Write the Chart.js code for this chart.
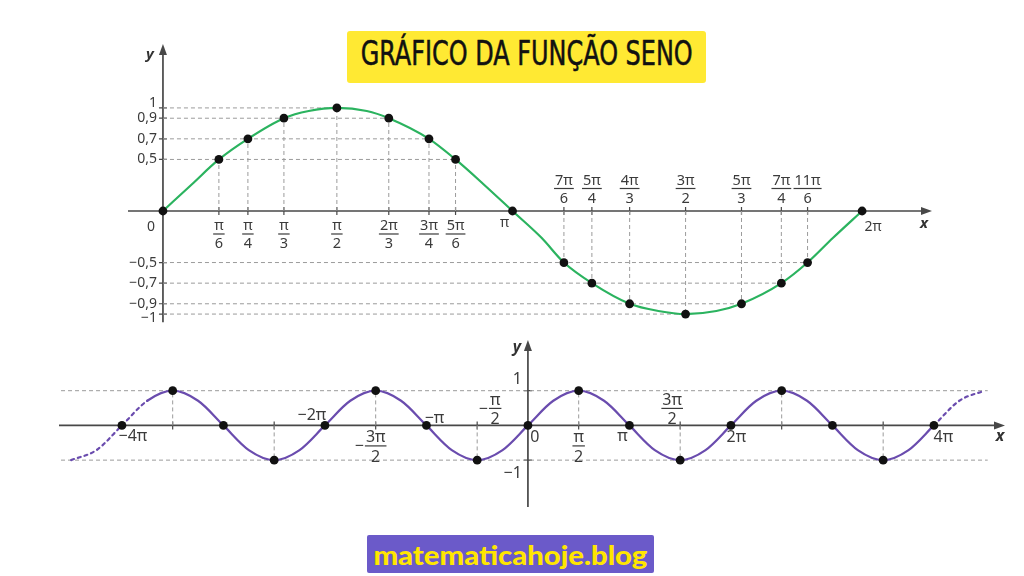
<!DOCTYPE html>
<html>
<head>
<meta charset="utf-8">
<script src="https://cdn.jsdelivr.net/npm/chart.js@4.4.0/dist/chart.umd.min.js"></script>
<style>
  html, body { margin: 0; padding: 0; background: #fff; width: 1024px; height: 576px; overflow: hidden; }
  canvas { position: absolute; left: 0; top: 0; }
  #title {
    position: absolute; left: 347px; top: 31px; width: 359px; height: 52px;
    background: #ffe933; border-radius: 3px;
    display: flex; justify-content: center; align-items: flex-start;
  }
  #title span {
    display: inline-block; margin-top: 3px;
    font-family: "Liberation Sans Narrow", "DejaVu Sans Condensed", "Liberation Sans", sans-serif;
    font-size: 33px; color: #111; white-space: nowrap; transform-origin: center;
    -webkit-text-stroke: 0.5px #111;
  }
  #footer {
    position: absolute; left: 367px; top: 535px; width: 287px; height: 38px;
    background: #6b5ac9; border-radius: 2px;
    display: flex; justify-content: center; align-items: center;
  }
  #footer span {
    display: inline-block;
    font-family: Lato, "Open Sans", sans-serif; font-weight: 900;
    font-size: 27px; color: #ffe600; white-space: nowrap; transform-origin: center;
  }
</style>
</head>
<body>
<canvas id="top-chart" width="1024" height="576"></canvas>
<canvas id="bottom-chart" width="1024" height="576"></canvas>
<div id="title"><span>GRÁFICO DA FUNÇÃO SENO</span></div>
<div id="footer"><span>matematicahoje.blog</span></div>
<script>
// ---- top chart (x in units of π, as placed in the picture) ----
const top_dot_x = [0, 0.16, 0.243, 0.346, 0.4975, 0.646, 0.761, 0.837, 1, 1.147, 1.227, 1.335, 1.495, 1.655, 1.769, 1.844, 2];
const top_dot_y = [0, 0.5, 0.7, 0.9, 1, 0.9, 0.7, 0.5, 0, -0.5, -0.7, -0.9, -1, -0.9, -0.7, -0.5, 0];
const top_num = ["", "π", "π", "π", "π", "2π", "3π", "5π", "", "7π", "5π", "4π", "3π", "5π", "7π", "11π", ""];
const top_den = ["", "6", "4", "3", "2", "3", "4", "6", "", "6", "4", "3", "2", "3", "4", "6", ""];
const top_curve_x = [0, 0.083, 0.16, 0.243, 0.346, 0.417, 0.4975, 0.583, 0.646, 0.761, 0.837, 0.917, 1,
  1.083, 1.147, 1.227, 1.335, 1.417, 1.495, 1.583, 1.655, 1.769, 1.844, 1.917, 2];
const top_curve_y = [0, 0.26, 0.5, 0.7, 0.9, 0.97, 1, 0.97, 0.9, 0.7, 0.5, 0.26, 0,
  -0.26, -0.5, -0.7, -0.9, -0.97, -1, -0.97, -0.9, -0.7, -0.5, -0.26, 0];
const top_y_ticks = [1, 0.9, 0.7, 0.5, -0.5, -0.7, -0.9, -1];
const top_y_labels = ["1", "0,9", "0,7", "0,5", "−0,5", "−0,7", "−0,9", "−1"];

// ---- bottom chart (x in units of π) ----
const bot_dot_x = [-4, -3.5, -3, -2.5, -2, -1.5, -1, -0.5, 0, 0.5, 1, 1.5, 2, 2.5, 3, 3.5, 4];
const bot_dot_y = [0, 1, 0, -1, 0, 1, 0, -1, 0, 1, 0, -1, 0, 1, 0, -1, 0];
const bot_curve_x = [-4.5, -4.25, -4, -3.75, -3.5, -3.25, -3, -2.75, -2.5, -2.25, -2, -1.75, -1.5, -1.25, -1, -0.75, -0.5, -0.25,
  0, 0.25, 0.5, 0.75, 1, 1.25, 1.5, 1.75, 2, 2.25, 2.5, 2.75, 3, 3.25, 3.5, 3.75, 4, 4.25, 4.5];
const bot_curve_y = [-1, -0.71, 0, 0.71, 1, 0.71, 0, -0.71, -1, -0.71, 0, 0.71, 1, 0.71, 0, -0.71, -1, -0.71,
  0, 0.71, 1, 0.71, 0, -0.71, -1, -0.71, 0, 0.71, 1, 0.71, 0, -0.71, -1, -0.71, 0, 0.71, 1];
const bot_x_label_at = [-4, -2, -1.5, -1, -0.5, 0, 0.5, 1, 1.5, 2, 4];
const bot_x_labels = ["−4π", "−2π", "−3π/2", "−π", "−π/2", "0", "π/2", "π", "3π/2", "2π", "4π"];
const bot_y_ticks = [1, -1];
const bot_y_labels = ["1", "−1"];

const INK = "#3b3b3b";
const AXIS = "#484848";
const GUIDE = "#9b9b9b";
const FONT = '"Noto Sans", "Open Sans", sans-serif';

const to_points = (xs, ys) => xs.map((x, i) => ({ x: x, y: ys[i] }));

// dashed guides: horizontal from the y axis, vertical from the x axis
const get_guides = (xs, ys, levels) => {
  const pts = [];
  (levels || []).forEach((v) => {
    const far = Math.max(...xs.filter((x, i) => ys[i] === v));
    pts.push({ x: 0, y: v }, { x: far, y: v }, { x: far, y: null });
  });
  xs.forEach((x, i) => {
    if (ys[i] === 0) return;
    pts.push({ x: x, y: 0 }, { x: x, y: ys[i] }, { x: x, y: null });
  });
  return pts;
};

const arrow = (ctx, x, y, dir) => {
  ctx.beginPath();
  if (dir === "right") {
    ctx.moveTo(x, y); ctx.lineTo(x - 11, y - 4); ctx.lineTo(x - 11, y + 4);
  } else {
    ctx.moveTo(x, y); ctx.lineTo(x - 4, y + 11); ctx.lineTo(x + 4, y + 11);
  }
  ctx.closePath();
  ctx.fill();
};

const frac = (ctx, cx, bar_y, num, den, size, minus) => {
  ctx.font = `${size}px ${FONT}`;
  const w = Math.max(ctx.measureText(num).width, ctx.measureText(den).width) + 2;
  ctx.textAlign = "center";
  ctx.textBaseline = "alphabetic";
  ctx.fillText(num, cx, bar_y - 3.5);
  ctx.fillText(den, cx, bar_y + size);
  ctx.fillRect(cx - w / 2, bar_y - 0.6, w, 1.2);
  if (minus) {
    ctx.textAlign = "right";
    ctx.textBaseline = "middle";
    ctx.fillText("−", cx - w / 2 - 1, bar_y + 1);
  }
};

const axes_plugin = (ax) => ({
  id: "axes",
  beforeDatasetsDraw(chart) {
    const { ctx, scales } = chart;
    const X = (v) => scales.x.getPixelForValue(v);
    const Y = (v) => scales.y.getPixelForValue(v);
    ctx.save();
    ctx.strokeStyle = AXIS;
    ctx.fillStyle = AXIS;
    ctx.lineWidth = 1.7;
    ctx.beginPath();
    ctx.moveTo(X(ax.x0), Y(0)); ctx.lineTo(X(ax.x1) - 6, Y(0));
    ctx.moveTo(X(0), Y(ax.y0)); ctx.lineTo(X(0), Y(ax.y1) + 6);
    ctx.stroke();
    arrow(ctx, X(ax.x1), Y(0), "right");
    arrow(ctx, X(0), Y(ax.y1), "up");
    ctx.lineWidth = 1.2;
    ctx.beginPath();
    ax.xticks.forEach((v) => { ctx.moveTo(X(v), Y(0) - 4); ctx.lineTo(X(v), Y(0) + 4); });
    ax.yticks.forEach((v) => { ctx.moveTo(X(0) - 4, Y(v)); ctx.lineTo(X(0) + 4, Y(v)); });
    ctx.stroke();
    ctx.restore();
  },
  afterDatasetsDraw(chart) {
    const { ctx, scales } = chart;
    ctx.save();
    ctx.fillStyle = INK;
    ax.labels(ctx, (v) => scales.x.getPixelForValue(v), (v) => scales.y.getPixelForValue(v));
    ctx.restore();
  },
});

const text = (ctx, s, x, y, size, align, style) => {
  ctx.font = `${style || ""} ${size}px ${FONT}`;
  ctx.textAlign = align || "center";
  ctx.textBaseline = "middle";
  ctx.fillText(s, x, y);
};

const top_labels = (ctx, X, Y) => {
  top_dot_x.forEach((x, i) => {
    if (!top_num[i]) return;
    const below = top_dot_y[i] > 0;
    frac(ctx, X(x), below ? Y(0) + 23 : Y(0) - 22.5, top_num[i], top_den[i], 14.5);
  });
  top_y_ticks.forEach((v, i) => {
    let dy = 0;
    if (v === 1) dy = -5;
    if (v === -1) dy = 4;
    text(ctx, top_y_labels[i], X(0) - 6, Y(v) + dy, 14, "right");
  });
  text(ctx, "0", X(0) - 12, Y(0) + 16, 14);
  text(ctx, "π", X(1) - 8, Y(0) + 12, 14);
  text(ctx, "2π", X(2) + 11, Y(0) + 16, 14);
  ctx.fillStyle = "#333";
  text(ctx, "x", X(2.2) - 8, Y(0) + 13, 15, "center", "italic bold");
  text(ctx, "y", X(0) - 13, Y(1.6) + 9, 15, "center", "italic bold");
};

// label placement around each bottom tick (layout only)
const bot_place = {
  "−4π": [11, 11], "−2π": [-13, -10], "−π": [8, -7], "0": [7, 12.5],
  "π": [-7, 11.5], "2π": [5.5, 12.5], "4π": [9.5, 12.5],
  "−3π/2": [0, 0], "−π/2": [18, 0], "π/2": [0, 0], "3π/2": [-8, 0],
};

const bot_labels = (ctx, X, Y) => {
  bot_x_label_at.forEach((v, i) => {
    const s = bot_x_labels[i];
    const [dx, dy] = bot_place[s];
    if (s.includes("/")) {
      const minus = s.startsWith("−");
      const [num, den] = s.replace("−", "").split("/");
      const yv = bot_dot_y[bot_dot_x.indexOf(v)];
      const bar = yv > 0 ? Y(0) + 20.5 : Y(0) - 17;
      frac(ctx, X(v) + dx, bar, num, den, 16, minus);
    } else {
      text(ctx, s, X(v) + dx, Y(0) + dy, 16);
    }
  });
  bot_y_ticks.forEach((v, i) => {
    text(ctx, bot_y_labels[i], X(0) - 6, Y(v) + (v > 0 ? -11 : 13), 16, "right");
  });
  ctx.fillStyle = "#333";
  text(ctx, "x", X(4.7) - 5, Y(0) + 11, 16, "center", "italic bold");
  text(ctx, "y", X(0) - 11, Y(2.45) + 7, 16, "center", "italic bold");
};

const get_chart_config = (datasets, range, padding, plugin) => ({
  type: "line",
  data: { datasets: datasets },
  options: {
    responsive: false,
    animation: false,
    events: [],
    layout: { padding: padding },
    plugins: { legend: { display: false }, tooltip: { enabled: false } },
    scales: {
      x: { type: "linear", display: false, min: range[0], max: range[1] },
      y: { type: "linear", display: false, min: range[2], max: range[3] },
    },
  },
  plugins: [plugin],
});

const dots = (xs, ys) => ({
  data: to_points(xs, ys), showLine: false,
  pointRadius: 4.4, pointBackgroundColor: "#111", pointBorderWidth: 0,
});

const curve = (xs, ys, color, dashed) => ({
  data: to_points(xs, ys), borderColor: color, borderWidth: 2.2,
  pointRadius: 0, cubicInterpolationMode: "monotone", fill: false,
  borderCapStyle: "round",
  segment: dashed ? { borderDash: (c) => (dashed(c.p0.parsed.x, c.p1.parsed.x) ? [3, 4] : undefined) } : undefined,
});

const guides = (pts) => ({
  data: pts, borderColor: GUIDE, borderWidth: 1, borderDash: [4, 3],
  pointRadius: 0, spanGaps: false, fill: false,
});

new Chart(
  document.getElementById("top-chart"),
  get_chart_config(
    [
      dots(top_dot_x, top_dot_y),
      curve(top_curve_x, top_curve_y, "#2bb35f"),
      guides(get_guides(top_dot_x, top_dot_y, top_y_ticks)),
    ],
    [-0.1, 2.22, -1.3, 1.62],
    { left: 128, right: 85, top: 44, bottom: 231 },
    axes_plugin({ x0: -0.1, x1: 2.2, y0: -1.08, y1: 1.62,
      xticks: top_dot_x.filter((x, i) => top_dot_y[i] !== 0), yticks: top_y_ticks, labels: top_labels })
  )
);

const bottom_guides = get_guides(bot_dot_x, bot_dot_y).concat(
  [{ x: -4.6, y: 1 }, { x: 4.53, y: 1 }, { x: 4.53, y: null }, { x: -4.6, y: -1 }, { x: 4.53, y: -1 }]
);

new Chart(
  document.getElementById("bottom-chart"),
  get_chart_config(
    [
      dots(bot_dot_x, bot_dot_y),
      curve(bot_curve_x, bot_curve_y, "#6a4cae", (a, b) => a < -3.99 || b > 4.01),
      guides(bottom_guides),
    ],
    [-4.62, 4.72, -2.35, 2.46],
    { left: 59, right: 17, top: 340, bottom: 69 },
    axes_plugin({ x0: -4.62, x1: 4.7, y0: -2.35, y1: 2.46,
      xticks: bot_dot_x.filter((x, i) => bot_dot_y[i] !== 0), yticks: bot_y_ticks, labels: bot_labels })
  )
);

// fit the two banner texts to the reference widths
const fit = (sel, target) => {
  const el = document.querySelector(sel);
  el.style.transform = `scaleX(${target / el.getBoundingClientRect().width})`;
};
fit("#title span", 332);
fit("#footer span", 274);
</script>
</body>
</html>
